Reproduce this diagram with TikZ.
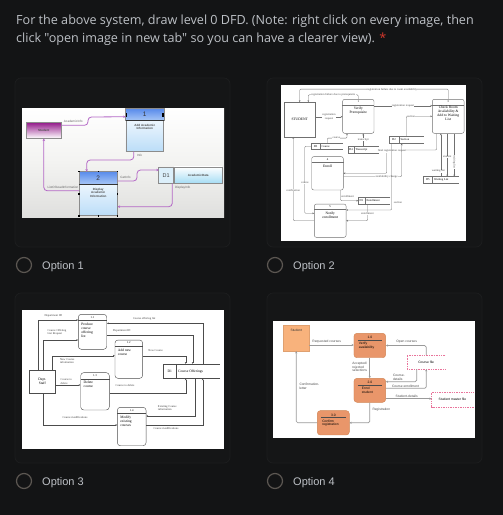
\documentclass[tikz,border=0pt]{standalone}
\usepackage{fontspec}
\setmainfont{Liberation Sans}
\newfontfamily\dserif{Liberation Serif}
\newfontfamily\qfont{Open Sans}
\usetikzlibrary{arrows.meta}
\definecolor{bg}{HTML}{131415}
\definecolor{cardc}{HTML}{151617}
\definecolor{cardb}{HTML}{1D1E1F}
\definecolor{txt}{HTML}{BDC1C6}
\definecolor{radc}{HTML}{5C5752}
\definecolor{ast}{HTML}{D4382C}
\definecolor{imgA}{HTML}{F3F3F1}
\definecolor{magA}{HTML}{93198A}
\definecolor{hdrA}{HTML}{5A8CEB}
\definecolor{hdrB}{HTML}{A9C8F6}
\definecolor{bodyB}{HTML}{BBDDF8}
\definecolor{cyanB}{HTML}{A4DCF4}
\definecolor{dlft}{HTML}{DCEFFA}
\definecolor{purA}{HTML}{B468C6}
\definecolor{boxA}{HTML}{8C8C8C}
\definecolor{gln}{HTML}{707070}
\definecolor{orA}{HTML}{F8B27C}
\definecolor{orB}{HTML}{E9966A}
\definecolor{orD}{HTML}{D08352}
\definecolor{pinkD}{HTML}{E9749B}
\definecolor{arf}{HTML}{9A9A9A}
\newcommand\myfA{\fontsize{3.1}{3.5}\selectfont}
\newcommand\myfAb{\bfseries\fontsize{3}{3.5}\selectfont}
\newcommand\myfS{\dserif\fontsize{2.9}{3.3}\selectfont}
\newcommand\myfSb{\dserif\fontsize{3.8}{4.2}\selectfont}
\newcommand\myfT{\dserif\fontsize{3.6}{4}\selectfont}
\newcommand\myfD{\fontsize{3.3}{3.8}\selectfont}
% store: name, x, y, w, h, divider, id, label, font
\newcommand\dstore[9]{%
  \node[minimum width=#4pt, minimum height=#5pt, inner sep=0pt] (#1) at (#2,#3) {};
  \draw[stline] (#1.north east) -- (#1.north west) -- (#1.south west) -- (#1.south east);
  \draw[stline] ([xshift=#6pt]#1.north west) -- ([xshift=#6pt]#1.south west);
  \node[font=#9, inner sep=0pt] (#1i) at ([xshift=#6pt/2]#1.west) {#7};
  \node[font=#9, inner sep=0pt, anchor=west] (#1t) at ([xshift=#6pt+1.5pt]#1.west) {#8};
}
\begin{document}
\begin{tikzpicture}[x=1pt,y=-1pt,
  card/.style={fill=cardc, draw=cardb, line width=0.7pt, rounded corners=6pt},
  radio/.style={circle, draw=radc, line width=1.2pt, minimum size=15pt, inner sep=0pt},
  opt/.style={anchor=base west, text=txt, font=\fontsize{11}{13}\selectfont, inner sep=0pt},
  ques/.style={anchor=base west, text=txt, font=\qfont\fontsize{12.6}{13}\selectfont, inner sep=0pt},
  % image 1
  parr/.style={draw=purA, line width=0.8pt, rounded corners=3.5pt, -{Stealth[length=2.4pt,width=2.4pt]}},
  l1/.style={font=\myfA, text=black!60, inner sep=0.3pt},
  vbox/.style={draw=boxA, line width=0.6pt, top color=white, bottom color=bodyB, inner sep=0pt},
  % image 2
  stline/.style={draw=gln, line width=0.4pt},
  g2/.style={draw=gln, line width=0.4pt},
  g2a/.style={draw=gln, line width=0.35pt, rounded corners=1pt, -{Stealth[length=1.8pt,width=1.7pt]}},
  g2l/.style={font=\myfS, fill=white, inner sep=0.3pt, text=black!70},
  % image 3
  g3/.style={draw=black!70, line width=0.4pt},
  g3a/.style={draw=black!70, line width=0.35pt, -{Stealth[length=1.8pt,width=1.7pt]}},
  g3l/.style={font=\myfS, fill=white, inner sep=0.3pt, text=black!75},
  % image 4
  d4p/.style={fill=orB, draw=orD, line width=0.4pt, rounded corners=3pt, inner sep=0pt},
  d4a/.style={draw=arf, line width=0.7pt, rounded corners=1.5pt, -{Stealth[length=2.2pt,width=2.2pt]}},
  d4l/.style={font=\myfD, fill=white, inner sep=0.3pt, text=black!70},
  d4s/.style={draw=pinkD, line width=0.4pt, dashed, dash pattern=on 1pt off 0.7pt}
]
\useasboundingbox (0,0) rectangle (503,515);
\fill[bg] (0,0) rectangle (503,515);

% ---------- question ----------
\node[ques] (qa) at (16,24) {For the above system, draw level 0 DFD. (Note: right click on every image, then};
\node[ques] (qb) at (16,42.8) {click "open image in new tab" so you can have a clearer view). \textcolor{ast}{*}};

% ---------- cards ----------
\draw[card] (15,78) rectangle (230,247);
\draw[card] (267,78) rectangle (482,247);
\draw[card] (15,293) rectangle (230,463);
\draw[card] (267,293) rectangle (482,463);

\node[radio] (r1) at (24,265) {};
\node[opt] (o1) at (42,269) {Option 1};
\node[radio] (r2) at (275,265) {};
\node[opt] (o2) at (293,269) {Option 2};
\node[radio] (r3) at (24,481) {};
\node[opt] (o3) at (42,485) {Option 3};
\node[radio] (r4) at (275,481) {};
\node[opt] (o4) at (293,485) {Option 4};

% =============== IMAGE 1 ===============
\shade[top color=white, bottom color=imgA!92!black, middle color=imgA] (22,108) rectangle (224,217);
\node[draw=boxA, line width=0.6pt, top color=magA, bottom color=white, minimum width=34.3pt, minimum height=16pt, inner sep=0pt, font=\myfAb, text=black!70] (a1stu) at (43.8,130.3) {Student};

\node[vbox, minimum width=37.7pt, minimum height=42.3pt] (a1p1) at (144.8,130.2) {};
\shade[top color=hdrA, bottom color=hdrB, draw=boxA, line width=0.6pt] (a1p1.north west) rectangle ([yshift=-12pt]a1p1.north east);
\draw[line width=0.9pt, black!80] ([yshift=-12pt]a1p1.north west) -- ([yshift=-12pt]a1p1.north east);
\fill[black] ([yshift=-4pt]a1p1.north west) rectangle ([xshift=1.6pt,yshift=-8pt]a1p1.north west);
\fill[black] ([yshift=-4pt]a1p1.north east) rectangle ([xshift=-1.6pt,yshift=-8pt]a1p1.north east);
\node[font=\fontsize{6.5}{7}\selectfont, text=black!80, inner sep=0pt] (a1p1n) at ([yshift=-6pt]a1p1.north) {1};
\node[font=\myfAb, text=black!70, align=center, anchor=north, inner sep=0pt] (a1p1t) at ([yshift=-15pt]a1p1.north) {Add Academic\\Information};

\node[vbox, minimum width=38pt, minimum height=43.7pt] (a1p2) at (98.3,193.8) {};
\shade[top color=hdrA, bottom color=hdrB, draw=boxA, line width=0.6pt] (a1p2.north west) rectangle ([yshift=-13pt]a1p2.north east);
\draw[line width=0.9pt, black!80] ([yshift=-13pt]a1p2.north west) -- ([yshift=-13pt]a1p2.north east);
\node[font=\fontsize{6.5}{7}\selectfont, text=black!80, inner sep=0pt] (a1p2n) at ([yshift=-6.5pt]a1p2.north) {2};
\node[font=\myfAb, text=black!70, align=center, anchor=north, inner sep=0pt] (a1p2t) at ([yshift=-16pt]a1p2.north) {Display\\Academic\\Information};
\foreach \an in {north west,north,north east,east,south east,south,south west,west}
  \fill[black] ([xshift=-0.7pt,yshift=-0.7pt]a1p2.\an) rectangle ([xshift=0.7pt,yshift=0.7pt]a1p2.\an);

\node[minimum width=62.7pt, minimum height=16.3pt, inner sep=0pt] (a1d1) at (190.3,175.2) {};
\shade[top color=white, bottom color=cyanB] ([xshift=15pt]a1d1.north west) rectangle (a1d1.south east);
\fill[dlft] (a1d1.north west) rectangle ([xshift=15pt]a1d1.south west);
\draw[boxA, line width=0.6pt] (a1d1.north west) rectangle (a1d1.south east);
\draw[boxA, line width=0.6pt] ([xshift=14.4pt]a1d1.north west) -- ([xshift=14.4pt]a1d1.south west);
\draw[boxA, line width=0.6pt] ([xshift=15.6pt]a1d1.north west) -- ([xshift=15.6pt]a1d1.south west);
\node[font=\fontsize{5.5}{6}\selectfont, text=black!75, inner sep=0pt] (a1d1i) at ([xshift=7.5pt]a1d1.west) {D1};
\node[font=\myfAb, text=black!70, inner sep=0pt] (a1d1t) at ([xshift=8pt]a1d1.center) {AcademicData};

\draw[parr] ([yshift=5pt]a1stu.east) -- (88,125.3) -- (88,117) -- ([yshift=-8pt]a1p1.north west);
\node[l1] (a1l1) at (73.3,121.7) {AcademicInfo};
\draw[parr] ([xshift=-11pt]a1p1.south) -- (133.8,160) -- (86.7,160) -- ([xshift=-11.6pt]a1p2.north);
\node[l1] (a1l2) at (139.5,155.7) {Info};
\draw[parr] ([yshift=12.8pt]a1p2.east) -- (137,181) -- (137,170) -- ([yshift=5.2pt]a1d1.west);
\node[l1] (a1l3) at (125.5,177.3) {GetInfo};
\draw[parr] ([xshift=-18pt]a1d1.south) -- (172.3,206.7) -- ([yshift=-12.9pt]a1p2.east);
\node[l1] (a1l4) at (182.7,187.3) {DisplayInfo};
\draw[parr] ([yshift=3pt]a1p2.west) -| (a1stu.south);
\node[l1] (a1l5) at (63,187) {ListOfAcadInformation};

% =============== IMAGE 2 ===============
\fill[white] (281,85) rectangle (466,241);
\node[g2, minimum width=30.7pt, minimum height=34.4pt, inner sep=0pt, font=\myfT] (b2stu) at (299.7,119.5) {STUDENT};
% processes
\node[g2, rounded corners=2pt, minimum width=31.3pt, minimum height=34pt, inner sep=0pt] (b2p1) at (358.3,116.3) {};
\draw[g2] ([yshift=-5.7pt]b2p1.north west) -- ([yshift=-5.7pt]b2p1.north east);
\node[font=\myfS, inner sep=0pt] (b2p1n) at ([yshift=-2.9pt]b2p1.north) {1};
\node[font=\myfT, align=center, anchor=north, inner sep=0pt] (b2p1t) at ([yshift=-8pt]b2p1.north) {Verify\\Prerequisite};

\node[g2, rounded corners=2pt, minimum width=31.7pt, minimum height=34pt, inner sep=0pt] (b2p3) at (448.2,116.3) {};
\draw[g2] ([yshift=-5.7pt]b2p3.north west) -- ([yshift=-5.7pt]b2p3.north east);
\node[font=\myfS, inner sep=0pt] (b2p3n) at ([yshift=-2.9pt]b2p3.north) {3};
\node[font=\myfT, align=center, anchor=north, inner sep=0pt] (b2p3t) at ([yshift=-7pt]b2p3.north) {Check Room\\Availability \&\\Add to Waiting\\List};

\node[g2, rounded corners=2pt, minimum width=31.6pt, minimum height=33.3pt, inner sep=0pt] (b2p4) at (327.5,173.3) {};
\draw[g2] ([yshift=-5.7pt]b2p4.north west) -- ([yshift=-5.7pt]b2p4.north east);
\node[font=\myfS, inner sep=0pt] (b2p4n) at ([yshift=-2.9pt]b2p4.north) {4};
\node[font=\myfT, align=center, anchor=north, inner sep=0pt] (b2p4t) at ([yshift=-8pt]b2p4.north) {Enroll};

\node[g2, rounded corners=2pt, minimum width=31.7pt, minimum height=33.3pt, inner sep=0pt] (b2p5) at (330.2,220.7) {};
\draw[g2] ([yshift=-5.7pt]b2p5.north west) -- ([yshift=-5.7pt]b2p5.north east);
\node[font=\myfS, inner sep=0pt] (b2p5n) at ([yshift=-2.9pt]b2p5.north) {5};
\node[font=\myfT, align=center, anchor=north, inner sep=0pt] (b2p5t) at ([yshift=-8pt]b2p5.north) {Notify\\enrollment};
% stores
\dstore{b2d3}{327.2}{146.3}{31}{6}{8.3}{D3}{Course}{\myfS}
\dstore{b2d4}{363.3}{150}{30}{6.6}{5.7}{D4}{Transcript}{\myfS}
\dstore{b2d2}{406.3}{140}{34}{6.6}{9.7}{D2}{Section}{\myfS}
\dstore{b2d5}{440.8}{180}{35}{6.6}{9.4}{D5}{Waiting List}{\myfS}
\dstore{b2d1}{374.2}{200.7}{31.7}{6.7}{6.7}{D1}{Enrollment}{\myfS}
% flows
\draw[g2a] (b2p3.north) -- ++(0,-10) -| (b2stu.north);
\node[g2l] (b2l1) at (392,89.3) {registration failure due to room availability};
\draw[g2a] (b2p1.north) -- ++(0,-4.3) -| ([xshift=8.6pt]b2stu.north);
\node[g2l] (b2l2) at (333.3,95) {registration failure due to prerequisite};
\coordinate (b2c3) at ([yshift=2.8pt]b2stu.east);
\draw[g2a] (b2c3) -- (b2c3 -| b2p1.west);
\node[g2l, align=center] (b2l3) at (329,116.7) {registration\\request};
\coordinate (b2c4) at ([yshift=10.6pt]b2p1.east);
\draw[g2a] (b2c4) -- (b2c4 -| b2p3.west);
\node[g2l] (b2l4) at (403,105.7) {registration request};
\draw[g2a] (b2d2.north) |- (b2p3.west);
\node[g2l] (b2l5) at (411,116.3) {section};
\draw[g2a] (b2d3.north) -- ++(0,-5) -| ([xshift=-11.3pt]b2p1.south);
\node[g2l] (b2l6) at (336.3,138.3) {course};
\draw[g2a] (b2d4.north) -- (b2d4.north |- b2p1.south);
\node[g2l] (b2l7) at (363.3,139.7) {transcript};
\draw[g2a] ([xshift=-11.5pt]b2p3.south) |- (386.7,150) |- (b2p4.east);
\node[g2l] (b2l8) at (392,151) {final registration request};
\coordinate (b2c9) at ([yshift=-3.4pt]b2p4.east);
\draw[g2a] (b2c9) -| ([xshift=-4.6pt]b2d2.south);
\node[g2l] (b2l9) at (386.7,176.7) {availability change};
\draw[g2a] ([xshift=-3pt]b2p4.south east) |- (b2d1.west);
\node[g2l] (b2l10) at (347.7,196.5) {enrollment};
\draw[g2a] ([xshift=-6.5pt]b2d1.south) |- (b2p5.east);
\node[g2l] (b2l11) at (367.3,213.3) {enrollment};
\coordinate (b2c12) at ([yshift=10.7pt]b2p5.east);
\draw[g2a] ([xshift=-14.6pt]b2d2.south) |- (b2c12);
\node[g2l] (b2l12) at (398,202.7) {section};
\draw[g2a] (b2d3.west) -- ++(-6.7,0) |- ([yshift=7.4pt]b2p5.west);
\node[g2l] (b2l13) at (305,182.7) {course};
\draw[g2a] (b2p5.west) -| ([xshift=-6.4pt]b2stu.south);
\node[g2l] (b2l14) at (293.3,190) {notification};
\draw[g2a] (b2d5.north) -- (b2d5.north |- b2p3.south);
\coordinate (b2c15) at ([xshift=-0.9pt]b2p3.south);
\draw[g2a] (b2c15) -- (b2c15 |- b2d5.north);
\coordinate (b2c16) at ([xshift=6.1pt]b2p3.south);
\draw[g2a] (b2c16) -- (b2c16 |- b2d5.north);
\node[g2l] (b2l15) at (447.3,157) {student};
\node[g2l, rotate=-90] (b2l16) at (454.3,162) {waiting list};
\node[g2l] (b2l17) at (438.3,171.3) {waiting list};

% =============== IMAGE 3 ===============
\fill[white] (22,310) rectangle (224,449);
\node[g3, minimum width=26.7pt, minimum height=23.3pt, inner sep=0pt, font=\myfT, align=center] (c3st) at (42.3,381.7) {Dept.\\Staff};
\node[g3, rounded corners=3pt, minimum width=28.4pt, minimum height=35pt, inner sep=0pt] (c3p1) at (92.5,331.8) {};
\draw[g3] ([yshift=-6.4pt]c3p1.north west) -- ([yshift=-6.4pt]c3p1.north east);
\node[font=\myfS, inner sep=0pt] (c3p1n) at ([yshift=-3.2pt]c3p1.north) {1.1};
\node[font=\myfT, align=left, anchor=north west, inner sep=0pt] (c3p1t) at ([xshift=3pt,yshift=-8.5pt]c3p1.north west) {Produce\\course\\offering\\list};

\node[g3, rounded corners=3pt, minimum width=27.7pt, minimum height=38.3pt, inner sep=0pt] (c3p2) at (128.8,359.2) {};
\draw[g3] ([yshift=-6pt]c3p2.north west) -- ([yshift=-6pt]c3p2.north east);
\node[font=\myfS, inner sep=0pt] (c3p2n) at ([yshift=-3pt]c3p2.north) {1.2};
\node[font=\myfT, align=left, anchor=north west, inner sep=0pt] (c3p2t) at ([xshift=3pt,yshift=-8.5pt]c3p2.north west) {Add new\\course};

\node[g3, rounded corners=3pt, minimum width=28.6pt, minimum height=37.3pt, inner sep=0pt] (c3p3) at (95,391.3) {};
\draw[g3] ([yshift=-6.3pt]c3p3.north west) -- ([yshift=-6.3pt]c3p3.north east);
\node[font=\myfS, inner sep=0pt] (c3p3n) at ([yshift=-3.1pt]c3p3.north) {1.3};
\node[font=\myfT, align=left, anchor=north west, inner sep=0pt] (c3p3t) at ([xshift=3pt,yshift=-8.5pt]c3p3.north west) {Delete\\course};

\node[g3, rounded corners=3pt, minimum width=28.7pt, minimum height=38.4pt, inner sep=0pt] (c3p4) at (131.7,426.5) {};
\draw[g3] ([yshift=-6pt]c3p4.north west) -- ([yshift=-6pt]c3p4.north east);
\node[font=\myfS, inner sep=0pt] (c3p4n) at ([yshift=-3pt]c3p4.north) {1.4};
\node[font=\myfT, align=left, anchor=north west, inner sep=0pt] (c3p4t) at ([xshift=3pt,yshift=-8.5pt]c3p4.north west) {Modify\\existing\\courses};

\begin{scope}[stline/.style={draw=black!70, line width=0.4pt}]
\dstore{c3d1}{191.3}{371.2}{56}{14.3}{13.4}{D1}{Course Offerings}{\myfT}
\end{scope}

\draw[g3a] ([xshift=-4.6pt]c3st.north) |- ([yshift=11.8pt]c3p1.west);
\node[g3l] (c3l1) at (53.3,315.5) {Department ID};
\draw[g3a] ([xshift=1pt]c3st.north) |- ([yshift=-8.2pt]c3p1.west);
\node[g3l, align=left] (c3l2) at (57,332.3) {Course Offering\\List Request};
\draw[g3a] ([xshift=11.4pt]c3d1.north) |- ([yshift=8.5pt]c3p1.east);
\node[g3l] (c3l3) at (144.3,318.3) {Course offering list};
\draw[g3a] ([yshift=-3.2pt]c3p1.east) -| ([xshift=1.4pt]c3d1.north);
\node[g3l] (c3l4) at (121.7,330.5) {Department ID};
\draw[g3a] ([xshift=10pt]c3st.north) |- ([yshift=3.5pt]c3p2.west);
\node[g3l, align=left] (c3l5) at (67.3,361) {New Course\\information};
\draw[g3a] ([yshift=3.5pt]c3p2.east) -| ([xshift=-5.6pt]c3d1.north);
\node[g3l] (c3l6) at (155.7,350.3) {New Course};
\coordinate (c3c7) at ([yshift=-3.3pt]c3st.east);
\draw[g3a] (c3c7) -- (c3c7 -| c3p3.west);
\node[g3l, align=left, anchor=south] (c3l7) at (66.3,384.6) {Course to\\delete};
\draw[g3a] ([yshift=-2pt]c3p3.east) -| ([xshift=-5.6pt]c3d1.south);
\node[g3l] (c3l8) at (125,385.5) {Course to delete};
\draw[g3a] ([xshift=1pt]c3st.south) |- ([yshift=1.5pt]c3p4.west);
\node[g3l] (c3l9) at (75,417.2) {Course modifications};
\draw[g3a] ([xshift=3.7pt]c3d1.south) |- ([yshift=10.5pt]c3p4.east);
\node[g3l, align=left] (c3l10) at (167.3,407.7) {Existing Course\\information};
\draw[g3a] ([yshift=1.5pt]c3p4.east) -| ([xshift=11.4pt]c3d1.south);
\node[g3l] (c3l11) at (166,428.7) {Course modifications};

% =============== IMAGE 4 ===============
\fill[white] (273,321) rectangle (475,438);
\node[fill=orA, draw=orA!90!black, line width=0.3pt, minimum width=26pt, minimum height=26pt, inner sep=0pt] (d4stu) at (296.3,338) {};
\node[font=\myfD, inner sep=0pt, text=black!80] (d4stut) at ([yshift=-5pt]d4stu.north) {Student};

\node[d4p, minimum width=31.7pt, minimum height=24.4pt] (d4v1) at (369.8,345.5) {};
\node[font=\myfD, inner sep=0pt] (d4v1n) at ([yshift=-4.5pt]d4v1.north) {1.0};
\draw[black!70, line width=0.35pt] ([xshift=4pt,yshift=-7pt]d4v1.north west) -- ([xshift=-4pt,yshift=-7pt]d4v1.north east);
\node[font=\myfD, align=left, anchor=north west, inner sep=0pt] (d4v1t) at ([xshift=5pt,yshift=-9pt]d4v1.north west) {Verify\\availability};

\node[d4p, minimum width=31.7pt, minimum height=24pt] (d4v2) at (369.8,390.3) {};
\node[font=\myfD, inner sep=0pt] (d4v2n) at ([yshift=-4.5pt]d4v2.north) {2.0};
\draw[black!70, line width=0.35pt] ([xshift=4pt,yshift=-7pt]d4v2.north west) -- ([xshift=-4pt,yshift=-7pt]d4v2.north east);
\node[font=\myfD, align=left, anchor=north west, inner sep=0pt] (d4v2t) at ([xshift=8pt,yshift=-9pt]d4v2.north west) {Enrol\\student};

\node[d4p, minimum width=32pt, minimum height=24.3pt] (d4v3) at (333.3,422.8) {};
\node[font=\myfD, inner sep=0pt] (d4v3n) at ([yshift=-4.5pt]d4v3.north) {3.0};
\draw[black!70, line width=0.35pt] ([xshift=4pt,yshift=-7pt]d4v3.north west) -- ([xshift=-4pt,yshift=-7pt]d4v3.north east);
\node[font=\myfD, align=left, anchor=north west, inner sep=0pt] (d4v3t) at ([xshift=5pt,yshift=-9pt]d4v3.north west) {Confirm\\registration};

\node[minimum width=37.7pt, minimum height=14pt, inner sep=0pt, font=\myfD] (d4cf) at (426.2,362) {Course file};
\draw[d4s] (d4cf.north east) -- (d4cf.north west) -- (d4cf.south west) -- (d4cf.south east);
\node[minimum width=41.6pt, minimum height=14.4pt, inner sep=0pt, font=\myfD] (d4smf) at (452.5,399.5) {Student master file};
\draw[d4s] (d4smf.north east) -- (d4smf.north west) -- (d4smf.south west) -- (d4smf.south east);

\coordinate (d4c1) at ([yshift=-7pt]d4stu.east);
\draw[d4a] (d4c1) -- (d4c1 -| d4v1.west);
\node[d4l, anchor=south] (d4l1) at (326.7,344) {Requested courses};
\draw[d4a] (d4cf.north) |- (d4v1.east);
\node[d4l, anchor=south] (d4l2) at (406.7,344) {Open courses};
\draw[d4a] (d4v1.south) -- (d4v2.north);
\node[d4l, align=left, anchor=east] (d4l3) at (367.5,367) {Accepted/\\rejected\\selections};
\draw[d4a] ([xshift=-9.5pt]d4cf.south) |- ([yshift=8.6pt]d4v2.east);
\node[d4l, align=left, anchor=south west] (d4l4) at (392.5,380.8) {Course-\\details};
\draw[d4a] ([yshift=2pt]d4v2.east) -| (d4cf.south);
\node[d4l, anchor=south] (d4l5) at (405.5,387.6) {Course enrollment};
\coordinate (d4c6) at ([yshift=-8.4pt]d4v2.east);
\draw[d4a] (d4c6) -- (d4c6 -| d4smf.west);
\node[d4l, anchor=south] (d4l6) at (406.7,397.8) {Student-details};
\draw[d4a] (d4v2.south) |- (d4v3.east);
\node[d4l, anchor=west] (d4l7) at (372,409.3) {Registration};
\draw[d4a] (d4v3.west) -| (d4stu.south);
\node[d4l, align=left, anchor=west] (d4l8) at (299,386.7) {Confirmation-\\letter};
\end{tikzpicture}
\end{document}
